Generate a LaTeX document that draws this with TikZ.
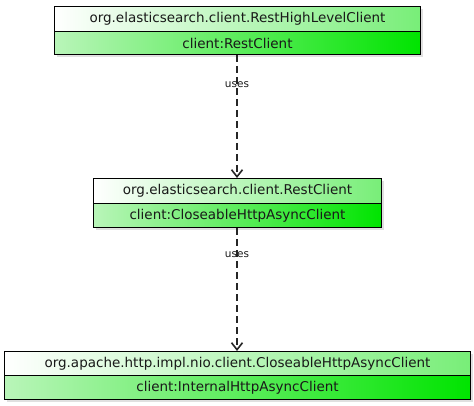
\documentclass[tikz,border=0pt]{standalone}
\usepackage{fontspec}
\setmainfont{DejaVu Sans}
\usetikzlibrary{arrows.meta,shadows}
\definecolor{gtopL}{RGB}{255,255,255}
\definecolor{gtopR}{RGB}{120,238,120}
\definecolor{gbotL}{RGB}{185,245,185}
\definecolor{gbotR}{RGB}{0,228,0}
\tikzset{
  comp/.style={draw=black, line width=1pt, inner sep=0pt, anchor=north west,
    font=\fontsize{13.5}{16}\selectfont, text=black!90},
  toppart/.style={comp, left color=gtopL, right color=gtopR},
  botpart/.style={comp, left color=gbotL, right color=gbotR},
  shadowbox/.style={fill=black!12, draw=none},
  uses/.style={dashed, dash pattern=on 7pt off 4pt, line width=1.6pt, black!85,
    -{Straight Barb[length=7pt,width=11pt,line width=1.6pt]}},
  lbl/.style={font=\fontsize{10.5}{12}\selectfont, inner sep=1pt, text=black!90}
}
\begin{document}
\begin{tikzpicture}[x=1pt,y=-1pt]
\useasboundingbox (0,0) rectangle (474,406);
% shadows
\fill[shadowbox] (57,9) rectangle (423,57);
\fill[shadowbox] (96,181) rectangle (384,230);
\fill[shadowbox] (7,354) rectangle (473,402);
% box 1
\node[toppart, minimum width=366pt, minimum height=25pt] (a1) at (54,6) {org.elasticsearch.client.RestHighLevelClient};
\node[botpart, minimum width=366pt, minimum height=23pt] (a2) at (54,31) {client:RestClient};
% box 2
\node[toppart, minimum width=288pt, minimum height=25pt] (b1) at (93,178) {org.elasticsearch.client.RestClient};
\node[botpart, minimum width=288pt, minimum height=24pt] (b2) at (93,203) {client:CloseableHttpAsyncClient};
% box 3
\node[toppart, minimum width=466pt, minimum height=24pt] (c1) at (4,351) {org.apache.http.impl.nio.client.CloseableHttpAsyncClient};
\node[botpart, minimum width=466pt, minimum height=24pt] (c2) at (4,375) {client:InternalHttpAsyncClient};
% connectors
\draw[uses] (a2.south -| 237,0) -- (b1.north -| 237,0) node[lbl, pos=0.24] (u1) {uses};
\draw[uses] (b2.south -| 237,0) -- (c1.north -| 237,0) node[lbl, pos=0.22] (u2) {uses};
\end{tikzpicture}
\end{document}
